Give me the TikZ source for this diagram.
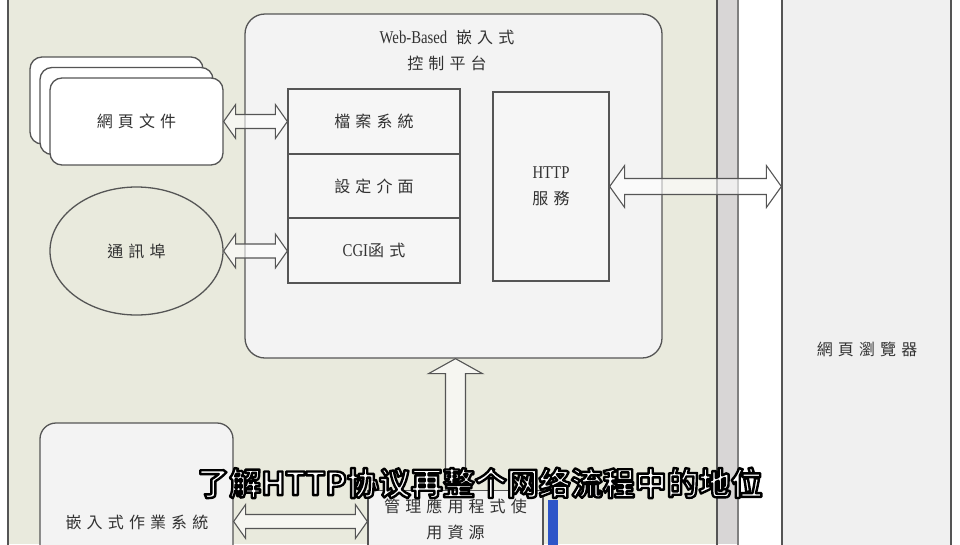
\documentclass[tikz,border=0pt]{standalone}
\usepackage{fontspec}
\usetikzlibrary{calc,shapes.geometric}
\setmainfont{Liberation Serif}
\newfontfamily\cjk[LetterSpace=32]{Noto Sans CJK TC}
\newfontfamily\latin[FakeStretch=0.82]{Liberation Serif}
\newfontfamily\subfont{Noto Sans CJK SC}[UprightFont=* Bold]
\definecolor{beige}{RGB}{233,234,221}
\definecolor{mainfill}{RGB}{243,243,243}
\definecolor{boxfill}{RGB}{246,246,246}
\definecolor{linec}{RGB}{85,85,85}
\definecolor{textc}{RGB}{50,50,50}
\definecolor{stripc}{RGB}{216,214,214}
\definecolor{browserfill}{RGB}{240,240,240}
\definecolor{bluebar}{RGB}{45,85,200}
\newcommand\lat[1]{{\latin\fontsize{18}{25}\selectfont #1}}
\newcommand\hdarrow[5]{%
  \draw[fatarrow] let \p1=#1, \p2=#2 in
    (\x1,\y1) -- (\x1+#3,\y1+#4) -- (\x1+#3,\y1+#5) -- (\x2-#3,\y1+#5) -- (\x2-#3,\y1+#4) -- (\x2,\y1)
    -- (\x2-#3,\y1-#4) -- (\x2-#3,\y1-#5) -- (\x1+#3,\y1-#5) -- (\x1+#3,\y1-#4) -- cycle;}
\newcommand\vuarrow[5]{%
  \draw[fatarrow] let \p1=#1, \p2=#2 in
    (\x1-#5,\y1) -- (\x1-#5,\y2-#3) -- (\x1-#4,\y2-#3) -- (\x1,\y2) -- (\x1+#4,\y2-#3) -- (\x1+#5,\y2-#3) -- (\x1+#5,\y1) -- cycle;}
\begin{document}
\begin{tikzpicture}[x=1pt,y=-1pt,
  lbl/.style={text=textc,font=\cjk\fontsize{16}{26}\selectfont,align=center},
  mainbox/.style={draw=linec,line width=1.3pt,fill=mainfill,rounded corners=20pt,minimum width=417pt,minimum height=344pt},
  stackbox/.style={draw=linec,line width=1.3pt,fill=boxfill,minimum width=172pt,inner sep=0pt},
  pagebox/.style={draw=linec,line width=1.3pt,fill=white,rounded corners=12pt,minimum width=173pt,minimum height=87pt},
  fatarrow/.style={draw=linec,line width=1.1pt,fill=white,fill opacity=0.6,line join=miter},
  panelline/.style={draw=linec,line width=1.3pt},
  subtitle/.style={text=white,font=\subfont\fontsize{32}{36}\selectfont}
]
\useasboundingbox (0,0) rectangle (960,544);
% background panels
\fill[white] (0,0) rectangle (960,544);
\fill[beige] (8,0) rectangle (717,544);
\fill[stripc] (717,0) rectangle (738,544);
\draw[panelline] (8,-5) -- (8,550);
\draw[panelline] (717,-5) -- (717,550);
\draw[panelline,draw=gray] (738,-5) -- (738,550);

% browser
\node[draw=linec,line width=1.3pt,fill=browserfill,minimum width=169pt,minimum height=620pt] (browser) at (866.5,272) {};
\node[lbl] (browserlbl) at (867,349) {網頁瀏覽器};

% main platform
\node[mainbox] (main) at (453.5,186) {};
\node[lbl] (title) at (447,50) {\lat{Web-Based} 嵌入式\\控制平台};
\node[stackbox,minimum height=65pt] (fs) at (374,121.5) {};
\node[lbl] at (fs) {檔案系統};
\node[stackbox,minimum height=64pt] (setif) at (374,186) {};
\node[lbl] at (setif) {設定介面};
\node[stackbox,minimum height=65pt] (cgi) at (374,250.5) {};
\node[lbl] at (cgi) {\lat{CGI}函式};
\node[draw=linec,line width=1.3pt,fill=boxfill,minimum width=116pt,minimum height=189pt,inner sep=0pt] (http) at (551,186.5) {};
\node[lbl] at (http) {\lat{HTTP}\\服務};

% web page stack
\node[pagebox] (web3) at (116.5,100.5) {};
\node[pagebox] (web2) at (126.5,111) {};
\node[pagebox] (web1) at (136.5,121.5) {};
\node[lbl] at (web1) {網頁文件};

% port ellipse
\node[ellipse,draw=linec,line width=1.3pt,fill=beige,minimum width=173pt,minimum height=128pt,inner sep=0pt] (port) at (136.5,251) {};
\node[lbl] at (port) {通訊埠};

% embedded OS
\node[draw=linec,line width=1.3pt,fill=mainfill,rounded corners=16pt,minimum width=193pt,minimum height=197pt] (os) at (136.5,521.5) {};
\node[lbl] at (137,522) {嵌入式作業系統};

% resource management
\node[draw=linec,line width=1.3pt,fill=mainfill,minimum width=175pt,minimum height=110pt,anchor=north] (mgmt) at (455.5,490) {};
\node[lbl] (mgmtlbl) at (455.5,519) {管理應用程式使\\用資源};
\fill[bluebar] (548,500) rectangle (558,550);

% arrows
\hdarrow{(web1.east)}{(fs.west)}{12pt}{17pt}{7pt}
\hdarrow{(port.east)}{(cgi.west)}{12pt}{17pt}{7pt}
\hdarrow{(http.east)}{(http.east -| browser.west)}{15pt}{21pt}{8pt}
\hdarrow{(os.east)}{(os.east -| mgmt.west)}{12pt}{17pt}{7pt}
\vuarrow{(mgmt.north)}{(mgmt.north |- main.south)}{15pt}{27pt}{10pt}

% subtitle
\node[subtitle] (sub) at (480,483) {\special{pdf:literal direct 2 Tr 2.4 w 0 G 1 j}了解HTTP协议再整个网络流程中的地位\special{pdf:literal direct 0 Tr}};
\end{tikzpicture}
\end{document}
